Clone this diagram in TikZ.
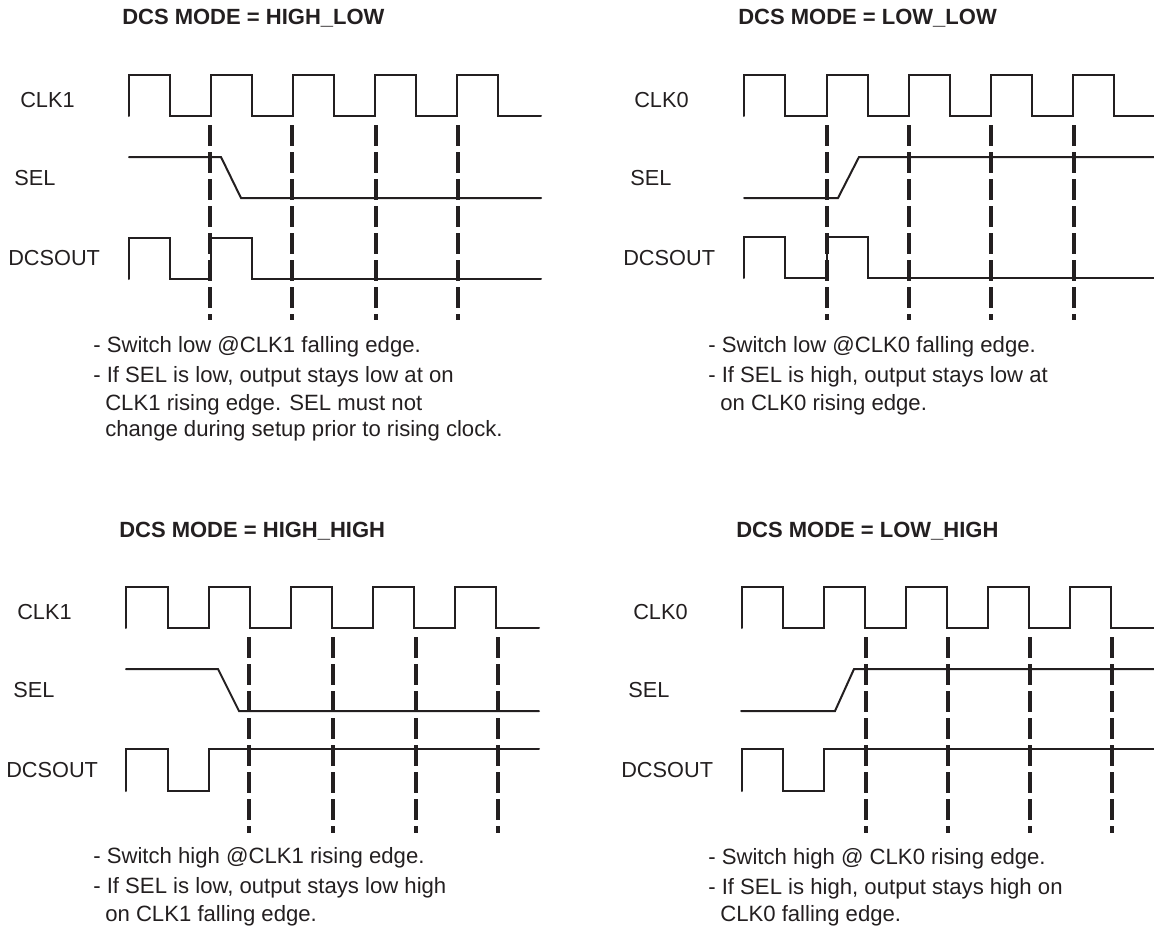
\documentclass[tikz,border=0pt]{standalone}
\usepackage{fontspec}
\setmainfont{Liberation Sans}
\usepackage{xcolor}
\definecolor{ink}{HTML}{231F20}
\tikzset{
  sig/.style={draw=ink, line width=1.5pt, line cap=round},
  mark line/.style={draw=ink, line width=2.9pt, dash pattern=on 15.75pt off 4.5pt},
  ttl/.style={anchor=base west, inner sep=0pt, text=ink, font=\fontsize{16.5}{18}\selectfont\bfseries},
  lbl/.style={anchor=base west, inner sep=0pt, text=ink, font=\fontsize{16.3}{18}\selectfont},
  note/.style={anchor=base west, inner sep=0pt, text=ink, font=\fontsize{16.6}{18}\selectfont},
}
\begin{document}
\begin{tikzpicture}[x=0.75pt, y=-0.75pt]
\useasboundingbox (0,0) rectangle (1154,928);
% HIGH_LOW
\node[ttl] (t1) at (122,25) {DCS MODE = HIGH\_LOW};
\node[lbl] (c1) at (20,107) {CLK1};
\node[lbl] (s1) at (14,185) {SEL};
\node[lbl] (d1) at (8,265) {DCSOUT};
\draw[sig] (129,116) -- (129,75) -- (170,75) -- (170,116) -- (211,116) -- (211,75) -- (252,75) -- (252,116) -- (293,116) -- (293,75) -- (334,75) -- (334,116) -- (375,116) -- (375,75) -- (416,75) -- (416,116) -- (457,116) -- (457,75) -- (498,75) -- (498,116) -- (541,116);
\draw[sig] (129,157) -- (221,157) -- (241,198) -- (541,198);
\draw[sig] (129,279) -- (129,238) -- (170,238) -- (170,279) -- (211,279) -- (211,238) -- (252,238) -- (252,279) -- (541,279);
\draw[mark line] (210,125) -- (210,320);
\draw[mark line] (292,125) -- (292,320);
\draw[mark line] (376,125) -- (376,320);
\draw[mark line] (458,125) -- (458,320);
\node[note] (n1a) at (93,352) {- Switch low @CLK1 falling edge.};
\node[note] (n1b) at (93,382) {- If SEL is low, output stays low at on};
\node[note] (n1c) at (105,410) {CLK1 rising edge. SEL must not};
\node[note] (n1d) at (105,436) {change during setup prior to rising clock.};
% LOW_LOW
\node[ttl] (t2) at (738,25) {DCS MODE = LOW\_LOW};
\node[lbl] (c2) at (634,107) {CLK0};
\node[lbl] (s2) at (630,185) {SEL};
\node[lbl] (d2) at (623,265) {DCSOUT};
\draw[sig] (744,116) -- (744,75) -- (785,75) -- (785,116) -- (827,116) -- (827,75) -- (868,75) -- (868,116) -- (909,116) -- (909,75) -- (950,75) -- (950,116) -- (991,116) -- (991,75) -- (1032,75) -- (1032,116) -- (1073,116) -- (1073,75) -- (1114,75) -- (1114,116) -- (1154,116);
\draw[sig] (744,198) -- (838,198) -- (859,157) -- (1154,157);
\draw[sig] (744,278) -- (744,237) -- (785,237) -- (785,278) -- (827,278) -- (827,237) -- (868,237) -- (868,278) -- (1154,278);
\draw[mark line] (827,125) -- (827,320);
\draw[mark line] (909,125) -- (909,320);
\draw[mark line] (991,125) -- (991,320);
\draw[mark line] (1074,125) -- (1074,320);
\node[note] (n2a) at (708,352) {- Switch low @CLK0 falling edge.};
\node[note] (n2b) at (708,382) {- If SEL is high, output stays low at};
\node[note] (n2c) at (720,410) {on CLK0 rising edge.};
% HIGH_HIGH
\node[ttl] (t3) at (119,537) {DCS MODE = HIGH\_HIGH};
\node[lbl] (c3) at (17,619) {CLK1};
\node[lbl] (s3) at (13,697) {SEL};
\node[lbl] (d3) at (6,777) {DCSOUT};
\draw[sig] (126,628) -- (126,587) -- (168,587) -- (168,628) -- (209,628) -- (209,587) -- (250,587) -- (250,628) -- (291,628) -- (291,587) -- (332,587) -- (332,628) -- (373,628) -- (373,587) -- (414,587) -- (414,628) -- (455,628) -- (455,587) -- (496,587) -- (496,628) -- (539,628);
\draw[sig] (126,669) -- (218,669) -- (239,711) -- (539,711);
\draw[sig] (126,791) -- (126,749) -- (168,749) -- (168,791) -- (209,791) -- (209,749) -- (539,749);
\draw[mark line] (249,637) -- (249,833);
\draw[mark line] (333,637) -- (333,833);
\draw[mark line] (416,637) -- (416,833);
\draw[mark line] (498,637) -- (498,833);
\node[note] (n3a) at (93,863) {- Switch high @CLK1 rising edge.};
\node[note] (n3b) at (93,893) {- If SEL is low, output stays low high};
\node[note] (n3c) at (105,921) {on CLK1 falling edge.};
% LOW_HIGH
\node[ttl] (t4) at (736,537) {DCS MODE = LOW\_HIGH};
\node[lbl] (c4) at (633,619) {CLK0};
\node[lbl] (s4) at (628,697) {SEL};
\node[lbl] (d4) at (621,777) {DCSOUT};
\draw[sig] (742,628) -- (742,587) -- (783,587) -- (783,628) -- (824,628) -- (824,587) -- (865,587) -- (865,628) -- (906,628) -- (906,587) -- (947,587) -- (947,628) -- (988,628) -- (988,587) -- (1029,587) -- (1029,628) -- (1070,628) -- (1070,587) -- (1111,587) -- (1111,628) -- (1154,628);
\draw[sig] (741,711) -- (835,711) -- (854,669) -- (1154,669);
\draw[sig] (742,791) -- (742,749) -- (783,749) -- (783,791) -- (824,791) -- (824,749) -- (1154,749);
\draw[mark line] (866,637) -- (866,833);
\draw[mark line] (948,637) -- (948,833);
\draw[mark line] (1030,637) -- (1030,833);
\draw[mark line] (1112,637) -- (1112,833);
\node[note] (n4a) at (708,864) {- Switch high @ CLK0 rising edge.};
\node[note] (n4b) at (708,894) {- If SEL is high, output stays high on};
\node[note] (n4c) at (720,921) {CLK0 falling edge.};
\end{tikzpicture}
\end{document}
